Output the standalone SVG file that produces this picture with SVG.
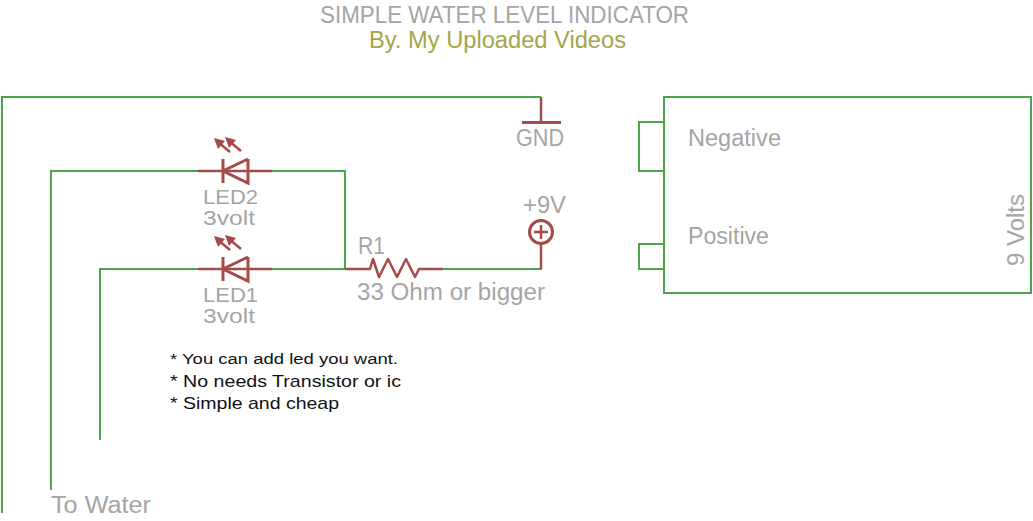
<svg xmlns="http://www.w3.org/2000/svg" width="1033" height="521" viewBox="0 0 1033 521">
<style>
.w{fill:none;stroke:#4BA54B;stroke-width:2;shape-rendering:crispEdges}
.r{fill:none;stroke:#A54B4B;stroke-width:2.500;stroke-linejoin:round}
.d{fill:none;stroke:#A54B4B;stroke-width:3;stroke-linejoin:miter}
.rt{fill:none;stroke:#A54B4B;stroke-width:3}
.af{fill:#A54B4B;stroke:none}
.g{font-family:"Liberation Sans",Arial,sans-serif;font-size:23px;fill:#A5A5A5}
.s{font-size:20px}
.n{font-family:"Liberation Sans",Arial,sans-serif;font-size:17px;fill:#111}
</style>
<rect width="1033" height="521" fill="#fff"/>
<g id="connectors">
<path class="w" d="M2 513V97H541"/>
<path class="w" d="M51 490V171H198"/>
<path class="w" d="M272 171H345V269"/>
<path class="w" d="M100 440V269H198"/>
<path class="w" d="M272 269H370"/>
<path class="w" d="M443 269H541V244"/>
<path class="w" d="M664 122H639V171H664"/>
<path class="w" d="M664 244H639V269H664"/>
</g>
<g id="title"><text class="g" x="320" y="23" textLength="369" lengthAdjust="spacingAndGlyphs">SIMPLE WATER LEVEL INDICATOR</text><text class="g" x="369" y="48" textLength="257" lengthAdjust="spacingAndGlyphs" style="fill:#A5A54B">By. My Uploaded Videos</text></g>
<g id="gnd"><path class="r" d="M541 97V122"/><path class="rt" d="M522 122.500H561"/><text class="g" x="516" y="146" textLength="48" lengthAdjust="spacingAndGlyphs">GND</text></g>
<g id="led2">
<path class="r" d="M198 171H272"/><path class="d" d="M223 159V183M248 159V183L223 171L248 159"/>
<path class="r" d="M218 142L230 152M229 141L241 151"/>
<path class="af" d="M214 138L225 141L218 149ZM225 137L236 140L229 148Z"/>
<text class="g s" x="203" y="204" textLength="55" lengthAdjust="spacingAndGlyphs">LED2</text><text class="g s" x="203" y="225" textLength="52" lengthAdjust="spacingAndGlyphs">3volt</text>
</g>
<g id="led1">
<path class="r" d="M198 269H272"/><path class="d" d="M223 257V281M248 257V281L223 269L248 257"/>
<path class="r" d="M218 240L230 250M229 239L241 249"/>
<path class="af" d="M214 236L225 239L218 247ZM225 235L236 238L229 246Z"/>
<text class="g s" x="203" y="302" textLength="55" lengthAdjust="spacingAndGlyphs">LED1</text><text class="g s" x="203" y="323" textLength="52" lengthAdjust="spacingAndGlyphs">3volt</text>
</g>
<g id="r1">
<path class="r" d="M345 269H370L373 259L379 277L388 259L397 277L406 259L415 277L419 269H443"/>
<text class="g" x="358" y="254" textLength="27" lengthAdjust="spacingAndGlyphs">R1</text><text class="g" x="357" y="300" textLength="188" lengthAdjust="spacingAndGlyphs">33 Ohm or bigger</text>
</g>
<g id="vcc">
<path class="r" d="M541 244V269"/><circle cx="541" cy="232" r="11.500" fill="none" stroke="#A54B4B" stroke-width="3"/><path class="r" d="M534 232H548M541 225V239"/>
<text class="g" x="523" y="213" textLength="43" lengthAdjust="spacingAndGlyphs">+9V</text>
</g>
<g id="battery">
<rect class="w" x="664" y="97" width="367" height="196"/>
<text class="g" x="688" y="146" textLength="93" lengthAdjust="spacingAndGlyphs">Negative</text><text class="g" x="688" y="244" textLength="81" lengthAdjust="spacingAndGlyphs">Positive</text>
<text class="g" transform="translate(1024 266) rotate(-90)" textLength="72" lengthAdjust="spacingAndGlyphs">9 Volts</text>
</g>
<g id="notes">
<text class="n" x="170" y="364" style="font-size:15.500px" textLength="228" lengthAdjust="spacingAndGlyphs">* You can add led you want.</text><text class="n" x="170" y="387" textLength="231" lengthAdjust="spacingAndGlyphs">* No needs Transistor or ic</text><text class="n" x="170" y="409" textLength="169" lengthAdjust="spacingAndGlyphs">* Simple and cheap</text>
</g>
<g id="water"><text class="g" x="51" y="513" textLength="100" lengthAdjust="spacingAndGlyphs">To Water</text></g>
</svg>
